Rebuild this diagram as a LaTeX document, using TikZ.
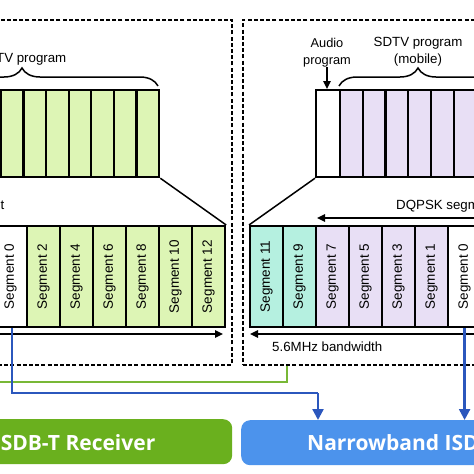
\documentclass[tikz,border=0pt]{standalone}
\usepackage{fontspec}
\setmainfont{Liberation Sans}
\newfontfamily\boxfont{Open Sans}
\usetikzlibrary{arrows.meta,decorations.pathreplacing}
\definecolor{seggreen}{HTML}{DDF5B5}
\definecolor{segpurple}{HTML}{E8DFF5}
\definecolor{segteal}{HTML}{B5F0E0}
\definecolor{boxgreen}{HTML}{6AB01E}
\definecolor{boxblue}{HTML}{4C93EC}
\definecolor{lineblue}{HTML}{2B57BD}
\definecolor{linegreen}{HTML}{78B836}
\tikzset{
  topseg/.style={draw=black,line width=2.2pt,minimum width=22.7pt,minimum height=87pt,inner sep=0pt,anchor=north west},
  botseg/.style={draw=black,line width=2.2pt,minimum width=33pt,minimum height=101pt,inner sep=0pt,anchor=north west},
  seglabel/.style={rotate=90,font=\fontsize{13.5}{15}\selectfont,inner sep=0pt},
  txt/.style={font=\fontsize{13.3}{16}\selectfont,inner sep=0pt,align=center},
  dashbox/.style={draw=black,line width=1.6pt,dash pattern=on 4pt off 2.2pt,minimum width=300pt,minimum height=345pt,inner sep=0pt,anchor=north west},
  thinline/.style={draw=black,line width=1.5pt},
  blackarrow/.style={draw=black,line width=1.5pt,-{Triangle[length=8pt,width=7.5pt]}},
  blueline/.style={draw=lineblue,line width=2.3pt},
  bluearrow/.style={draw=lineblue,line width=2.3pt,-{Triangle[length=11pt,width=11pt]}},
  greenline/.style={draw=linegreen,line width=2.3pt},
  bigbox/.style={rounded corners=9pt,minimum height=45pt,inner sep=0pt,anchor=north west},
  boxtext/.style={font=\boxfont\bfseries\fontsize{21}{24}\selectfont,text=white,inner sep=0pt},
  bracestyle/.style={draw=black,line width=1.5pt,decorate,decoration={brace,amplitude=18pt}}
}
\begin{document}
\begin{tikzpicture}[x=1pt,y=-1pt]
\useasboundingbox (0,0) rectangle (474,474);
\clip (0,0) rectangle (474,474);
\fill[white] (0,0) rectangle (474,474);

% dashed boxes
\node[dashbox,minimum width=271pt] (lbox) at (-40,19) {};
\node[dashbox,minimum width=300pt] (rbox) at (242,19) {};

% top-left block (green)
\foreach \i in {0,...,7}{
  \node[topseg,fill=seggreen] (tl\i) at ({-22.8+22.6*\i},89) {};
}
% top-right block
\node[topseg,fill=white,minimum width=24pt] (trw) at (315,89) {};
\foreach \i in {0,...,6}{
  \node[topseg,fill=segpurple] (tr\i) at ({339+22.7*\i},89) {};
}

% braces and labels
\draw[bracestyle] (-114,86) -- (158,86);
\node[txt,anchor=base] (ltitle) at (22,62) {SDTV program};
\draw[bracestyle] (339,86) -- (497,86);
\node[txt,anchor=base] (rtitle) at (418,46) {SDTV program};
\node[txt,anchor=base] (rtitle2) at (418,63) {(mobile)};
\node[txt,anchor=base,font=\fontsize{12.8}{15}\selectfont] (audio1) at (327,47) {Audio};
\node[txt,anchor=base,font=\fontsize{12.8}{15}\selectfont] (audio2) at (327,64) {program};
\coordinate (audiotop) at (327,67);
\draw[blackarrow] (audiotop) -- (trw.north -| audiotop);

% bottom-left block
\node[botseg,fill=white] (bl0) at (-7,225) {};
\node[seglabel] (bll0) at (bl0.center) {Segment 0};
\foreach \i in {1,...,6}{
  \pgfmathtruncatemacro{\n}{2*\i}
  \node[botseg,fill=seggreen] (bl\i) at ({-7+33*\i},225) {};
  \node[seglabel] (bll\i) at (bl\i.center) {Segment \n};
}
% bottom-right block
\foreach \i/\n/\c in {0/11/segteal,1/9/segteal,2/7/segpurple,3/5/segpurple,4/3/segpurple,5/1/segpurple,6/0/white}{
  \node[botseg,fill=\c] (br\i) at ({249+33*\i},225) {};
  \node[seglabel] (brl\i) at (br\i.center) {Segment \n};
}

% connecting trapezoid lines
\draw[thinline] (tl7.south east) -- (bl6.north east);
\draw[thinline] (trw.south west) -- (br0.north west);

% segment text labels and arrows
\node[txt,anchor=base east] (lseg) at (4.5,209.5) {segment};
\node[txt,anchor=base west] (dqpsk) at (396,209.5) {DQPSK segment};
\coordinate (dqstart) at (490,218);
\draw[blackarrow] (dqstart) -- (317,218);
\coordinate (lbstart) at (-10,334);
\draw[blackarrow] (lbstart) -- (223,334);
\coordinate (rbstart) at (490,334);
\draw[blackarrow] (rbstart) -- (250,334);
\node[txt,anchor=base west] (bw) at (272,351.5) {5.6MHz bandwidth};

% receiver boxes
\node[bigbox,fill=boxgreen,minimum width=300pt] (isdb) at (-68,419) {};
\node[boxtext,anchor=base east] (isdbtxt) at (155.5,450) {ISDB-T Receiver};
\node[bigbox,fill=boxblue,minimum width=300pt] (nb) at (241,420) {};
\node[boxtext,anchor=base west] (nbtxt) at (307,450) {Narrowband ISDB-T Receiver};

% green line
\coordinate (gturn) at (-10,382);
\draw[greenline] ([xshift=45pt]rbox.south west) |- (gturn);
% blue lines
\coordinate (bturn) at (318,393);
\draw[blueline] ([xshift=1.5pt]bl0.south) |- (bturn);
\draw[bluearrow] (bturn) -- (bturn |- nb.north);
\draw[bluearrow] (br6.south) -- (br6.south |- nb.north);
\end{tikzpicture}
\end{document}
